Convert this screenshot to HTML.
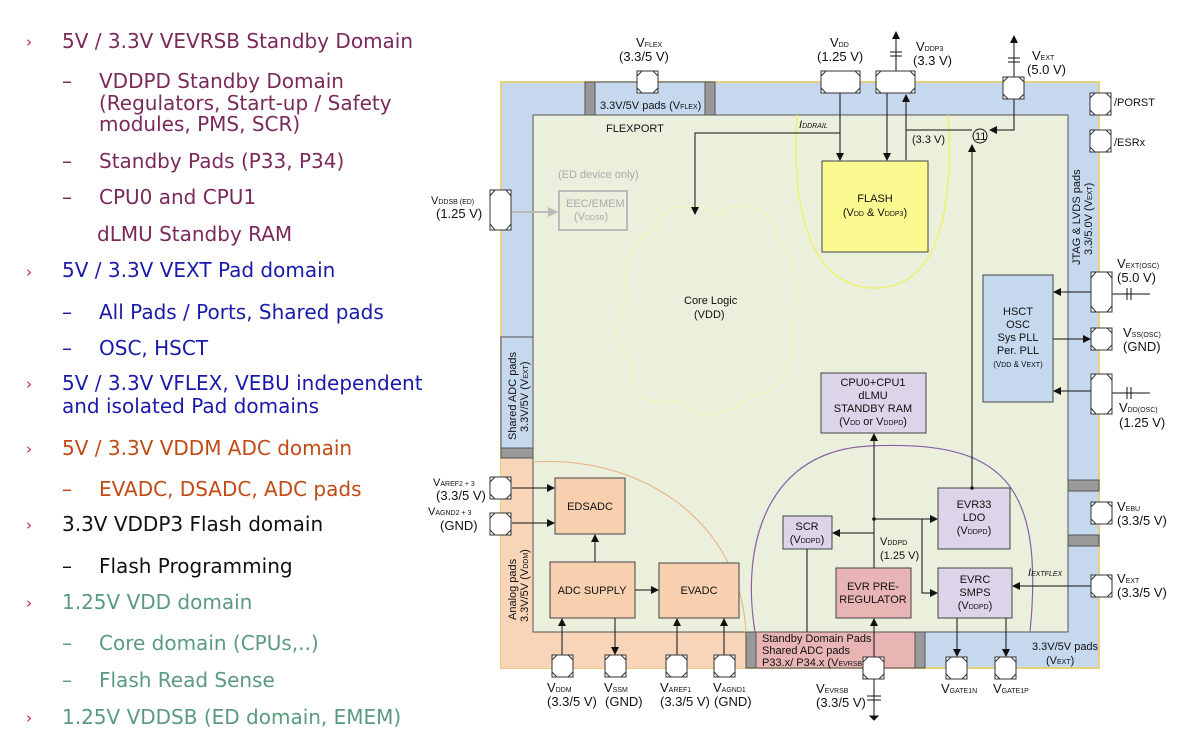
<!DOCTYPE html>
<html><head><meta charset="utf-8"><style>
html,body{margin:0;padding:0;background:#fff;}
svg{display:block;}
.l{font-family:"DejaVu Sans",sans-serif;font-size:20px;}
.d{font-family:"Liberation Sans",sans-serif;font-size:11px;fill:#111;}
.m{font-family:"Liberation Sans",sans-serif;font-size:13px;fill:#111;}
.s{font-size:7px;}
</style></head><body>
<svg width="1192" height="736" viewBox="0 0 1192 736" xmlns="http://www.w3.org/2000/svg">
<defs>
<marker id="a" markerWidth="8" markerHeight="8" refX="7" refY="4" orient="auto" markerUnits="userSpaceOnUse"><path d="M0,0 L8,4 L0,8z" fill="#111"/></marker>
<marker id="g" markerWidth="10" markerHeight="10" refX="9" refY="5" orient="auto" markerUnits="userSpaceOnUse"><path d="M0,0 L10,5 L0,10z" fill="#bbb"/></marker>
<g id="pad"><rect x="0" y="0" width="21" height="22" fill="#fff" stroke="#333" stroke-width="1"/><path d="M0,5 L5,0 M16,0 L21,5 M0,17 L5,22 M16,22 L21,17" stroke="#333" stroke-width="1"/></g>
<g id="padt"><rect x="0" y="0" width="21" height="40" fill="#fff" stroke="#333" stroke-width="1"/><path d="M0,6 L5,0 M16,0 L21,6 M0,34 L5,40 M16,40 L21,34" stroke="#333" stroke-width="1"/></g>
<g id="padw"><rect x="0" y="0" width="39" height="22" fill="#fff" stroke="#333" stroke-width="1"/><path d="M0,5 L5,0 M34,0 L39,5 M0,17 L5,22 M34,22 L39,17" stroke="#333" stroke-width="1"/></g>
</defs>

<!-- LEFT LIST -->
<g class="l">
<g fill="#c0204a" font-size="15"><text x="26" y="47">›</text><text x="26" y="277">›</text><text x="26" y="389">›</text><text x="26" y="454">›</text><text x="26" y="530">›</text><text x="26" y="608">›</text><text x="26" y="723">›</text></g>
<g fill="#7a2a5a">
<text x="62" y="48">5V / 3.3V VEVRSB Standby Domain</text>
<text x="62" y="88">–</text><text x="99" y="88">VDDPD Standby Domain</text>
<text x="99" y="110">(Regulators, Start-up / Safety</text>
<text x="99" y="131">modules, PMS, SCR)</text>
<text x="62" y="168">–</text><text x="99" y="168">Standby Pads (P33, P34)</text>
<text x="62" y="204">–</text><text x="99" y="204">CPU0 and CPU1</text>
<text x="97" y="241">dLMU Standby RAM</text>
</g>
<g fill="#1a1aaa">
<text x="62" y="277">5V / 3.3V VEXT Pad domain</text>
<text x="62" y="319">–</text><text x="99" y="319">All Pads / Ports, Shared pads</text>
<text x="62" y="355">–</text><text x="99" y="355">OSC, HSCT</text>
<text x="62" y="390">5V / 3.3V VFLEX, VEBU independent</text>
<text x="62" y="413">and isolated Pad domains</text>
</g>
<g fill="#c24a14">
<text x="62" y="455">5V / 3.3V VDDM ADC domain</text>
<text x="62" y="496">–</text><text x="99" y="496">EVADC, DSADC, ADC pads</text>
</g>
<g fill="#111">
<text x="62" y="531">3.3V VDDP3 Flash domain</text>
<text x="62" y="573">–</text><text x="99" y="573">Flash Programming</text>
</g>
<g fill="#5a9a7e">
<text x="62" y="609">1.25V VDD domain</text>
<text x="62" y="650">–</text><text x="99" y="650">Core domain (CPUs,..)</text>
<text x="62" y="687">–</text><text x="99" y="687">Flash Read Sense</text>
<text x="62" y="724">1.25V VDDSB (ED domain, EMEM)</text>
</g>
</g>

<!-- DIAGRAM BACKGROUND -->
<rect x="501" y="82" width="598" height="586" fill="#c5d8ee" stroke="#e8d080" stroke-width="2"/>
<rect x="501" y="458" width="245" height="210" fill="#f8d5b8"/>
<rect x="533" y="115" width="535" height="517" fill="#eaf0dc" stroke="#555" stroke-width="1"/>
<rect x="501" y="337" width="32" height="111" fill="#c5d8ee" stroke="#555" stroke-width="1"/>
<rect x="501" y="448" width="32" height="10" fill="#999" stroke="#555" stroke-width="1"/>
<!-- flexport -->
<rect x="585" y="82" width="130" height="33" fill="#c5d8ee" stroke="#555"/>
<rect x="585" y="82" width="10" height="33" fill="#999" stroke="#555"/>
<rect x="705" y="82" width="10" height="33" fill="#999" stroke="#555"/>
<text class="d" x="600" y="109" font-size="10">3.3V/5V pads (V<tspan class="s">FLEX</tspan>)</text>
<text class="d" x="606" y="132" font-size="10">FLEXPORT</text>
<!-- right col gray bars -->
<rect x="1068" y="480" width="31" height="11" fill="#999" stroke="#555"/>
<rect x="1068" y="535" width="31" height="11" fill="#999" stroke="#555"/>
<!-- standby pads -->
<rect x="746" y="632" width="179" height="36" fill="#e8b4b4" stroke="#555"/>
<rect x="746" y="632" width="10" height="36" fill="#999" stroke="#555"/>
<rect x="915" y="632" width="10" height="36" fill="#999" stroke="#555"/>
<text class="d" x="762" y="642" font-size="10">Standby Domain Pads</text>
<text class="d" x="762" y="654" font-size="10">Shared ADC pads</text>
<text class="d" x="762" y="666" font-size="10">P33.x/ P34.x (V<tspan class="s">EVRSB</tspan>)</text>

<!-- curves -->
<path d="M797,115 C790,230 820,288 875,288 C930,288 955,230 948,115" fill="none" stroke="#f0f070" stroke-width="1.5"/>
<path d="M755,632 C740,540 770,450 870,446 C1000,440 1045,480 1030,632" fill="none" stroke="#8a60a8" stroke-width="1.2"/>
<path d="M533,462 C640,455 740,520 746,632" fill="none" stroke="#e8b080" stroke-width="1"/>
<path d="M660,225 C655,205 705,200 718,215 C740,195 780,210 777,240 C800,260 800,300 790,330 C800,360 775,400 750,395 C730,420 690,420 680,400 C640,410 625,385 635,365 C610,350 615,310 630,300 C615,270 635,235 660,225z" fill="none" stroke="#f4f4b0" stroke-width="1"/>
<text class="d" x="684" y="304" font-size="10">Core Logic</text>
<text class="d" x="694" y="318" font-size="10">(VDD)</text>

<!-- grey EEC -->
<text class="d" x="558" y="178" font-size="9" style="fill:#aaa">(ED device only)</text>
<rect x="559" y="191" width="68" height="39" fill="none" stroke="#bbb" stroke-width="2"/>
<text class="d" x="566" y="207" style="fill:#aaa">EEC/EMEM</text>
<text class="d" x="574" y="220" font-size="9" style="fill:#aaa">(V<tspan class="s">DDSB</tspan>)</text>
<line x1="512" y1="212" x2="557" y2="212" stroke="#bbb" stroke-width="2" marker-end="url(#g)"/>

<!-- blocks -->
<rect x="822" y="161" width="106" height="91" fill="#fafa90" stroke="#444"/>
<text class="d" x="875" y="202" text-anchor="middle" font-size="10">FLASH</text>
<text class="d" x="875" y="216" text-anchor="middle" font-size="8">(V<tspan class="s">DD</tspan> &amp; V<tspan class="s">DDP3</tspan>)</text>
<rect x="821" y="373" width="105" height="60" fill="#dcd4e8" stroke="#444"/>
<text class="d" x="873" y="386" text-anchor="middle" font-size="10">CPU0+CPU1</text>
<text class="d" x="873" y="399" text-anchor="middle" font-size="10">dLMU</text>
<text class="d" x="873" y="412" text-anchor="middle" font-size="10">STANDBY RAM</text>
<text class="d" x="873" y="425" text-anchor="middle" font-size="8">(V<tspan class="s">DD</tspan> or V<tspan class="s">DDPD</tspan>)</text>
<rect x="983" y="275" width="70" height="127" fill="#c5d8ee" stroke="#444"/>
<g class="d" text-anchor="middle" font-size="10"><text x="1018" y="315">HSCT</text><text x="1018" y="328">OSC</text><text x="1018" y="341">Sys PLL</text><text x="1018" y="354">Per. PLL</text><text x="1018" y="367" font-size="8">(V<tspan class="s">DD</tspan> &amp; V<tspan class="s">EXT</tspan>)</text></g>
<rect x="555" y="478" width="70" height="56" fill="#f8d0b0" stroke="#444"/>
<text class="d" x="590" y="510" text-anchor="middle" font-size="10">EDSADC</text>
<rect x="550" y="562" width="85" height="56" fill="#f8d0b0" stroke="#444"/>
<text class="d" x="592" y="594" text-anchor="middle" font-size="10">ADC SUPPLY</text>
<rect x="659" y="563" width="80" height="55" fill="#f8d0b0" stroke="#444"/>
<text class="d" x="699" y="594" text-anchor="middle" font-size="10">EVADC</text>
<rect x="783" y="516" width="49" height="33" fill="#dcd4e8" stroke="#444"/>
<text class="d" x="807" y="530" text-anchor="middle" font-size="10">SCR</text>
<text class="d" x="807" y="543" text-anchor="middle" font-size="8">(V<tspan class="s">DDPD</tspan>)</text>
<rect x="836" y="568" width="75" height="50" fill="#e8b4b4" stroke="#444"/>
<text class="d" x="873" y="590" text-anchor="middle" font-size="10">EVR PRE-</text>
<text class="d" x="873" y="603" text-anchor="middle" font-size="10">REGULATOR</text>
<rect x="938" y="488" width="72" height="61" fill="#dcd4e8" stroke="#444"/>
<text class="d" x="974" y="508" text-anchor="middle" font-size="10">EVR33</text>
<text class="d" x="974" y="521" text-anchor="middle" font-size="10">LDO</text>
<text class="d" x="974" y="534" text-anchor="middle" font-size="8">(V<tspan class="s">DDPD</tspan>)</text>
<rect x="938" y="568" width="74" height="50" fill="#dcd4e8" stroke="#444"/>
<text class="d" x="975" y="583" text-anchor="middle" font-size="10">EVRC</text>
<text class="d" x="975" y="596" text-anchor="middle" font-size="10">SMPS</text>
<text class="d" x="975" y="609" text-anchor="middle" font-size="8">(V<tspan class="s">DDPD</tspan>)</text>

<!-- connectors -->
<g stroke="#111" stroke-width="1" fill="none">
<line x1="840" y1="93" x2="840" y2="160" marker-end="url(#a)"/>
<polyline points="840,133 695,133 695,214" marker-end="url(#a)"/>
<line x1="887" y1="93" x2="887" y2="160" marker-end="url(#a)"/>
<line x1="906" y1="160" x2="906" y2="95" marker-end="url(#a)"/>
<polyline points="1014,98 1014,130 990,130" marker-end="url(#a)"/>
<line x1="906" y1="130" x2="972" y2="130"/>
<circle cx="980" cy="136" r="7"/>
<line x1="972" y1="488" x2="972" y2="145" marker-end="url(#a)"/>
<line x1="874" y1="568" x2="874" y2="434" marker-end="url(#a)"/>
<line x1="874" y1="533" x2="833" y2="533" marker-end="url(#a)"/>
<line x1="874" y1="519" x2="937" y2="519" marker-end="url(#a)"/>
<polyline points="922,519 922,593 937,593" marker-end="url(#a)"/>
<line x1="807" y1="549" x2="807" y2="632"/>
<line x1="874" y1="657" x2="874" y2="619" marker-end="url(#a)"/>
<line x1="957" y1="618" x2="957" y2="656" marker-end="url(#a)"/>
<line x1="1006" y1="618" x2="1006" y2="656" marker-end="url(#a)"/>
<line x1="1091" y1="586" x2="1013" y2="586" marker-end="url(#a)"/>
<line x1="1091" y1="292" x2="1054" y2="292" marker-end="url(#a)"/>
<line x1="1053" y1="339" x2="1090" y2="339" marker-end="url(#a)"/>
<line x1="1091" y1="391" x2="1054" y2="391" marker-end="url(#a)"/>
<line x1="512" y1="488" x2="554" y2="488" marker-end="url(#a)"/>
<line x1="512" y1="523" x2="554" y2="523" marker-end="url(#a)"/>
<line x1="595" y1="562" x2="595" y2="535" marker-end="url(#a)"/>
<line x1="635" y1="590" x2="658" y2="590" marker-end="url(#a)"/>
<line x1="562" y1="655" x2="562" y2="619" marker-end="url(#a)"/>
<line x1="615" y1="618" x2="615" y2="654" marker-end="url(#a)"/>
<line x1="677" y1="655" x2="677" y2="619" marker-end="url(#a)"/>
<line x1="724" y1="655" x2="724" y2="619" marker-end="url(#a)"/>
<line x1="896" y1="71" x2="896" y2="32" marker-end="url(#a)"/><line x1="890" y1="52" x2="902" y2="52"/><line x1="890" y1="56" x2="902" y2="56"/>
<line x1="1014" y1="77" x2="1014" y2="36" marker-end="url(#a)"/><line x1="1008" y1="58" x2="1020" y2="58"/><line x1="1008" y1="62" x2="1020" y2="62"/>
<line x1="874" y1="679" x2="874" y2="716"/>
<line x1="867" y1="696" x2="881" y2="696"/><line x1="867" y1="700" x2="881" y2="700"/>
<path d="M870,716 L878,716 L874,720z" fill="#111"/>
<line x1="1112" y1="294" x2="1150" y2="294"/><line x1="1127" y1="288" x2="1127" y2="300"/><line x1="1131" y1="288" x2="1131" y2="300"/>
<line x1="1112" y1="393" x2="1150" y2="393"/><line x1="1127" y1="387" x2="1127" y2="399"/><line x1="1131" y1="387" x2="1131" y2="399"/>
</g>
<circle cx="874" cy="519" r="1.8" fill="#111"/><circle cx="972" cy="488" r="1.8" fill="#111"/>
<text class="d" x="975" y="140" font-size="9">11</text>
<text class="d" x="912" y="143" font-size="10">(3.3 V)</text>
<text class="d" x="799" y="128" font-size="8" font-style="italic">I<tspan class="s">DDRAIL</tspan></text>
<text class="d" x="1028" y="576" font-size="8" font-style="italic">I<tspan class="s">EXTFLEX</tspan></text>
<text class="d" x="880" y="545" font-size="10">V<tspan class="s">DDPD</tspan></text>
<text class="d" x="880" y="559" font-size="10">(1.25 V)</text>
<text class="d" x="1032" y="650" font-size="10">3.3V/5V pads</text>
<text class="d" x="1046" y="664" font-size="10">(V<tspan class="s">EXT</tspan>)</text>

<!-- vertical labels -->
<text class="d" transform="translate(516,440) rotate(-90)" font-size="10">Shared ADC  pads</text>
<text class="d" transform="translate(528,432) rotate(-90)" font-size="10">3.3V/5V (V<tspan class="s">EXT</tspan>)</text>
<text class="d" transform="translate(516,620) rotate(-90)" font-size="10">Analog pads</text>
<text class="d" transform="translate(528,622) rotate(-90)" font-size="10">3.3V/5V (V<tspan class="s">DDM</tspan>)</text>
<text class="d" transform="translate(1080,265) rotate(-90)" font-size="10">JTAG &amp; LVDS pads</text>
<text class="d" transform="translate(1092,255) rotate(-90)" font-size="10">3.3/5.0V (V<tspan class="s">EXT</tspan>)</text>

<!-- pads -->
<use href="#pad" x="637" y="71"/>
<use href="#padw" x="821" y="71"/>
<use href="#padw" x="876" y="71"/>
<use href="#pad" x="1003" y="77"/>
<use href="#pad" x="1090" y="93"/>
<use href="#pad" x="1090" y="130"/>
<use href="#padt" x="490" y="190"/>
<use href="#pad" x="490" y="477"/>
<use href="#pad" x="490" y="513"/>
<use href="#pad" x="552" y="655"/>
<use href="#pad" x="605" y="655"/>
<use href="#pad" x="666" y="655"/>
<use href="#pad" x="714" y="655"/>
<use href="#pad" x="863" y="657"/>
<use href="#pad" x="946" y="657"/>
<use href="#pad" x="995" y="657"/>
<use href="#padt" x="1091" y="272"/>
<use href="#pad" x="1091" y="328"/>
<use href="#padt" x="1091" y="374"/>
<use href="#pad" x="1091" y="502"/>
<use href="#pad" x="1091" y="575"/>

<!-- pad labels -->
<g class="m">
<text x="636" y="47">V<tspan class="s">FLEX</tspan></text><text x="619" y="61">(3.3/5 V)</text>
<text x="830" y="47">V<tspan class="s">DD</tspan></text><text x="817" y="61">(1.25 V)</text>
<text x="916" y="51">V<tspan class="s">DDP3</tspan></text><text x="913" y="65">(3.3 V)</text>
<text x="1032" y="60">V<tspan class="s">EXT</tspan></text><text x="1027" y="74">(5.0 V)</text>
<text x="1114" y="106" font-size="11">/PORST</text>
<text x="1114" y="146" font-size="11">/ESRx</text>
<text x="431" y="204" font-size="11">V<tspan class="s">DDSB (ED)</tspan></text><text x="436" y="218">(1.25 V)</text>
<text x="433" y="486" font-size="11">V<tspan class="s">AREF2 + 3</tspan></text><text x="436" y="500">(3.3/5 V)</text>
<text x="428" y="515" font-size="11">V<tspan class="s">AGND2 + 3</tspan></text><text x="440" y="530">(GND)</text>
<text x="1117" y="268">V<tspan class="s">EXT(OSC)</tspan></text><text x="1117" y="282">(5.0 V)</text>
<text x="1123" y="337">V<tspan class="s">SS(OSC)</tspan></text><text x="1123" y="351">(GND)</text>
<text x="1119" y="412">V<tspan class="s">DD(OSC)</tspan></text><text x="1119" y="427">(1.25 V)</text>
<text x="1117" y="511">V<tspan class="s">EBU</tspan></text><text x="1117" y="525">(3.3/5 V)</text>
<text x="1117" y="583">V<tspan class="s">EXT</tspan></text><text x="1117" y="597">(3.3/5 V)</text>
<text x="547" y="692">V<tspan class="s">DDM</tspan></text><text x="547" y="706">(3.3/5 V)</text>
<text x="604" y="692">V<tspan class="s">SSM</tspan></text><text x="605" y="706">(GND)</text>
<text x="660" y="692">V<tspan class="s">AREF1</tspan></text><text x="660" y="706">(3.3/5 V)</text>
<text x="713" y="692">V<tspan class="s">AGND1</tspan></text><text x="714" y="706">(GND)</text>
<text x="816" y="693">V<tspan class="s">EVRSB</tspan></text><text x="816" y="707">(3.3/5 V)</text>
<text x="941" y="693">V<tspan class="s">GATE1N</tspan></text>
<text x="993" y="693">V<tspan class="s">GATE1P</tspan></text>
</g>
</svg>
</body></html>
